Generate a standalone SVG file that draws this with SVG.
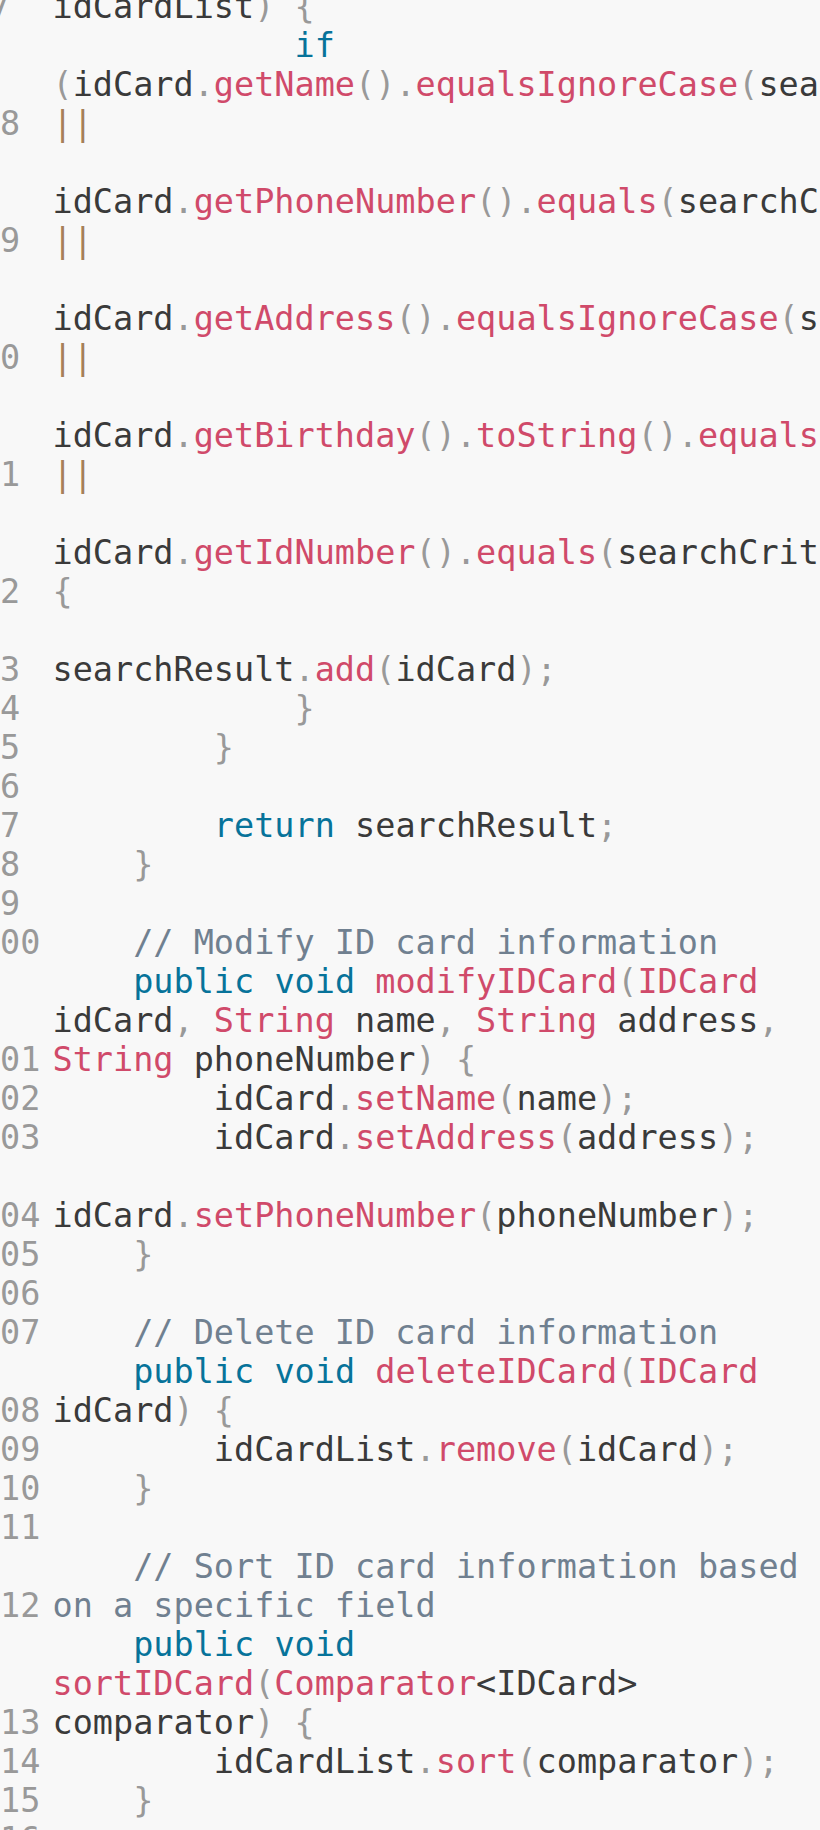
<svg xmlns="http://www.w3.org/2000/svg" width="820" height="1830" viewBox="0 0 820 1830">
<style>
text{font-family:"DejaVu Sans Mono","Liberation Mono",monospace;font-size:33.5px;fill:#3a3a3a;white-space:pre}
.n{fill:#999}
.p{fill:#999}
.f{fill:#d04a6a}
.k{fill:#07739a}
.c{fill:#708090}
.o{fill:#a67f59}
</style>
<rect width="820" height="1830" fill="#f8f8f8"/>
<g id="linenumbers">
<text class="n" x="-10" y="18">7</text>
<text class="n" x="0" y="135">8</text>
<text class="n" x="0" y="252">9</text>
<text class="n" x="0" y="369">0</text>
<text class="n" x="0" y="486">1</text>
<text class="n" x="0" y="603">2</text>
<text class="n" x="0" y="681">3</text>
<text class="n" x="0" y="720">4</text>
<text class="n" x="0" y="759">5</text>
<text class="n" x="0" y="798">6</text>
<text class="n" x="0" y="837">7</text>
<text class="n" x="0" y="876">8</text>
<text class="n" x="0" y="915">9</text>
<text class="n" x="0" y="954">00</text>
<text class="n" x="0" y="1071">01</text>
<text class="n" x="0" y="1110">02</text>
<text class="n" x="0" y="1149">03</text>
<text class="n" x="0" y="1227">04</text>
<text class="n" x="0" y="1266">05</text>
<text class="n" x="0" y="1305">06</text>
<text class="n" x="0" y="1344">07</text>
<text class="n" x="0" y="1422">08</text>
<text class="n" x="0" y="1461">09</text>
<text class="n" x="0" y="1500">10</text>
<text class="n" x="0" y="1539">11</text>
<text class="n" x="0" y="1617">12</text>
<text class="n" x="0" y="1734">13</text>
<text class="n" x="0" y="1773">14</text>
<text class="n" x="0" y="1812">15</text>
<text class="n" x="0" y="1851">16</text>
</g>
<g id="code" xml:space="preserve">
<text x="52.5" y="18">idCardList<tspan class="p">)</tspan> <tspan class="p">{</tspan></text>
<text x="52.5" y="57">            <tspan class="k">if</tspan></text>
<text x="52.5" y="96"><tspan class="p">(</tspan>idCard<tspan class="p">.</tspan><tspan class="f">getName</tspan><tspan class="p">().</tspan><tspan class="f">equalsIgnoreCase</tspan><tspan class="p">(</tspan>sea</text>
<text x="52.5" y="135" class="o">||</text>
<text x="52.5" y="213">idCard<tspan class="p">.</tspan><tspan class="f">getPhoneNumber</tspan><tspan class="p">().</tspan><tspan class="f">equals</tspan><tspan class="p">(</tspan>searchC</text>
<text x="52.5" y="252" class="o">||</text>
<text x="52.5" y="330">idCard<tspan class="p">.</tspan><tspan class="f">getAddress</tspan><tspan class="p">().</tspan><tspan class="f">equalsIgnoreCase</tspan><tspan class="p">(</tspan>s</text>
<text x="52.5" y="369" class="o">||</text>
<text x="52.5" y="447">idCard<tspan class="p">.</tspan><tspan class="f">getBirthday</tspan><tspan class="p">().</tspan><tspan class="f">toString</tspan><tspan class="p">().</tspan><tspan class="f">equals</tspan></text>
<text x="52.5" y="486" class="o">||</text>
<text x="52.5" y="564">idCard<tspan class="p">.</tspan><tspan class="f">getIdNumber</tspan><tspan class="p">().</tspan><tspan class="f">equals</tspan><tspan class="p">(</tspan>searchCrit</text>
<text x="52.5" y="603" class="p">{</text>
<text x="52.5" y="681">searchResult<tspan class="p">.</tspan><tspan class="f">add</tspan><tspan class="p">(</tspan>idCard<tspan class="p">);</tspan></text>
<text x="52.5" y="720" class="p">            }</text>
<text x="52.5" y="759" class="p">        }</text>
<text x="52.5" y="837">        <tspan class="k">return</tspan> searchResult<tspan class="p">;</tspan></text>
<text x="52.5" y="876" class="p">    }</text>
<text x="52.5" y="954" class="c">    // Modify ID card information</text>
<text x="52.5" y="993">    <tspan class="k">public</tspan> <tspan class="k">void</tspan> <tspan class="f">modifyIDCard</tspan><tspan class="p">(</tspan><tspan class="f">IDCard</tspan></text>
<text x="52.5" y="1032">idCard<tspan class="p">,</tspan> <tspan class="f">String</tspan> name<tspan class="p">,</tspan> <tspan class="f">String</tspan> address<tspan class="p">,</tspan></text>
<text x="52.5" y="1071"><tspan class="f">String</tspan> phoneNumber<tspan class="p">)</tspan> <tspan class="p">{</tspan></text>
<text x="52.5" y="1110">        idCard<tspan class="p">.</tspan><tspan class="f">setName</tspan><tspan class="p">(</tspan>name<tspan class="p">);</tspan></text>
<text x="52.5" y="1149">        idCard<tspan class="p">.</tspan><tspan class="f">setAddress</tspan><tspan class="p">(</tspan>address<tspan class="p">);</tspan></text>
<text x="52.5" y="1227">idCard<tspan class="p">.</tspan><tspan class="f">setPhoneNumber</tspan><tspan class="p">(</tspan>phoneNumber<tspan class="p">);</tspan></text>
<text x="52.5" y="1266" class="p">    }</text>
<text x="52.5" y="1344" class="c">    // Delete ID card information</text>
<text x="52.5" y="1383">    <tspan class="k">public</tspan> <tspan class="k">void</tspan> <tspan class="f">deleteIDCard</tspan><tspan class="p">(</tspan><tspan class="f">IDCard</tspan></text>
<text x="52.5" y="1422">idCard<tspan class="p">)</tspan> <tspan class="p">{</tspan></text>
<text x="52.5" y="1461">        idCardList<tspan class="p">.</tspan><tspan class="f">remove</tspan><tspan class="p">(</tspan>idCard<tspan class="p">);</tspan></text>
<text x="52.5" y="1500" class="p">    }</text>
<text x="52.5" y="1578" class="c">    // Sort ID card information based</text>
<text x="52.5" y="1617" class="c">on a specific field</text>
<text x="52.5" y="1656">    <tspan class="k">public</tspan> <tspan class="k">void</tspan></text>
<text x="52.5" y="1695"><tspan class="f">sortIDCard</tspan><tspan class="p">(</tspan><tspan class="f">Comparator</tspan>&lt;IDCard&gt;</text>
<text x="52.5" y="1734">comparator<tspan class="p">)</tspan> <tspan class="p">{</tspan></text>
<text x="52.5" y="1773">        idCardList<tspan class="p">.</tspan><tspan class="f">sort</tspan><tspan class="p">(</tspan>comparator<tspan class="p">);</tspan></text>
<text x="52.5" y="1812" class="p">    }</text>
</g>
</svg>
